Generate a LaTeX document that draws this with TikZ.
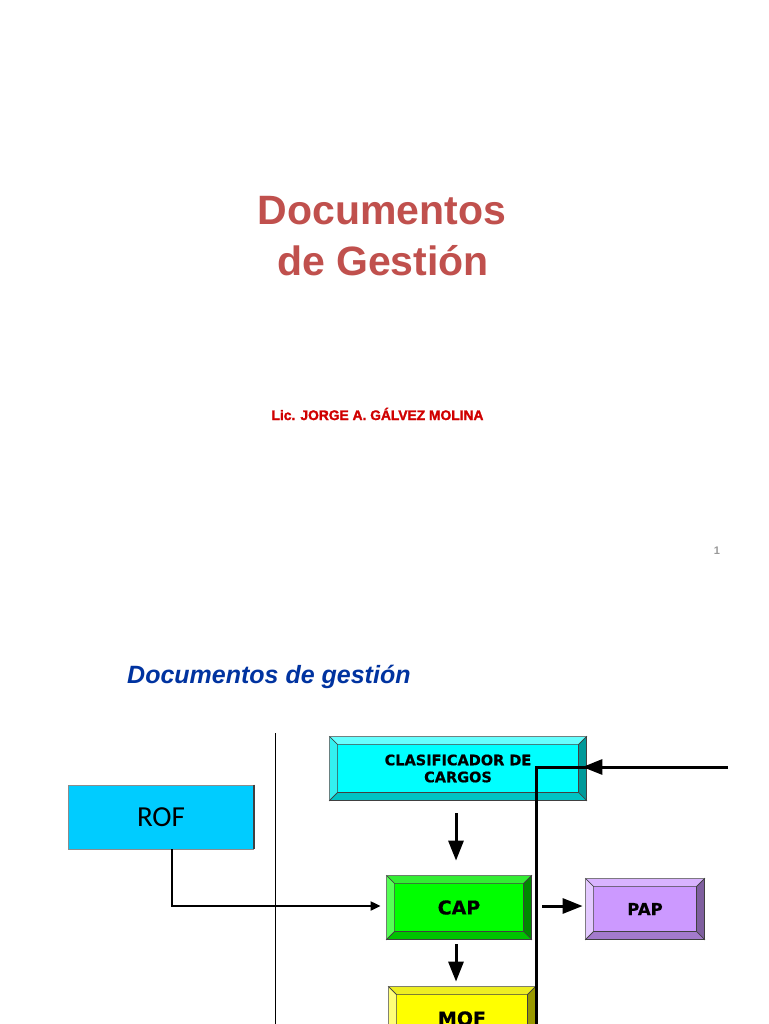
\documentclass[tikz,border=0pt]{standalone}
\usepackage{fontspec}
\setmainfont{Liberation Sans}
\newfontfamily\dvs[FakeBold=0.6]{DejaVu Sans}
\newfontfamily\heavy[FakeBold=1.8]{Liberation Sans}
\newfontfamily\carl{Carlito}
\usetikzlibrary{arrows.meta}
\definecolor{titlered}{HTML}{C0504D}
\definecolor{subred}{HTML}{D00000}
\definecolor{headblue}{HTML}{0033A0}
\definecolor{rofblue}{HTML}{00CCFF}
% bevel colours
\definecolor{cyF}{HTML}{00FFFF}\definecolor{cyT}{HTML}{66FFFF}\definecolor{cyL}{HTML}{33F0F0}\definecolor{cyR}{HTML}{009999}\definecolor{cyB}{HTML}{00C4C4}
\definecolor{grF}{HTML}{00FF00}\definecolor{grT}{HTML}{33EE33}\definecolor{grL}{HTML}{55FF55}\definecolor{grR}{HTML}{008800}\definecolor{grB}{HTML}{00C400}
\definecolor{puF}{HTML}{CC99FF}\definecolor{puT}{HTML}{D9B3FF}\definecolor{puL}{HTML}{E3C9FF}\definecolor{puR}{HTML}{7F5F9F}\definecolor{puB}{HTML}{A37ACC}
\definecolor{yeF}{HTML}{FFFF00}\definecolor{yeT}{HTML}{EEEE22}\definecolor{yeL}{HTML}{FFFF77}\definecolor{yeR}{HTML}{999900}\definecolor{yeB}{HTML}{CCCC00}
\newcommand{\bevelize}[6]{%
  \path[draw=black!75, line width=0.7pt, fill=#3] (#1.north west) -- (#1.north east) -- ([shift={(-#2,#2)}]#1.north east) -- ([shift={(#2,#2)}]#1.north west) -- cycle;
  \path[draw=black!75, line width=0.7pt, fill=#4] (#1.north west) -- ([shift={(#2,#2)}]#1.north west) -- ([shift={(#2,-#2)}]#1.south west) -- (#1.south west) -- cycle;
  \path[draw=black!75, line width=0.7pt, fill=#5] (#1.north east) -- (#1.south east) -- ([shift={(-#2,-#2)}]#1.south east) -- ([shift={(-#2,#2)}]#1.north east) -- cycle;
  \path[draw=black!75, line width=0.7pt, fill=#6] (#1.south west) -- (#1.south east) -- ([shift={(-#2,-#2)}]#1.south east) -- ([shift={(#2,-#2)}]#1.south west) -- cycle;
}
\tikzset{
  bevbox/.style={draw=black!80, line width=0.8pt, inner sep=0pt, align=center},
  thickarrow/.style={line width=3pt, -{Triangle[length=20pt,width=15pt]}},
  thinarrow/.style={line width=2pt, -{Triangle[length=10pt,width=9pt]}},
  plainline/.style={line width=3pt},
}
\begin{document}
\begin{tikzpicture}[x=1pt,y=-1pt]
\useasboundingbox (0,0) rectangle (768,1024);
\clip (0,0) rectangle (768,1024);
\fill[white] (0,0) rectangle (768,1024);

% slide 1
\node[anchor=base, text=titlered, font=\fontsize{41}{41}\selectfont\bfseries, inner sep=0pt] (t1) at (382,225) {Documentos};
\node[anchor=base, text=titlered, font=\fontsize{41}{41}\selectfont\bfseries, inner sep=0pt] (t2) at (383,275) {de Gestión};
\node[anchor=base, text=subred, font=\heavy\bfseries\fontsize{13.8}{14}\selectfont, inner sep=0pt] (sub) at (377.5,420) {Lic. JORGE A. GÁLVEZ MOLINA};
\node[anchor=base, text=black!40, font=\fontsize{11}{11}\selectfont\bfseries, inner sep=0pt] (pg) at (717,554) {1};

% slide 2
\node[anchor=base west, text=headblue, font=\fontsize{25}{25}\selectfont\bfseries\itshape, inner sep=0pt] (head) at (127,683) {Documentos de gestión};

\draw[line width=1pt] (275,733) -- (275,1024);

\node[draw=black!45, line width=0.8pt, fill=rofblue, minimum width=185pt, minimum height=64pt, inner sep=0pt, font=\carl\fontsize{29}{29}\selectfont] (rof) at (161,817) {ROF};
\draw[black!75, line width=1.6pt] (rof.north east) -- (rof.south east);

\node[bevbox, fill=cyF, minimum width=256pt, minimum height=63pt, font=\dvs\bfseries\fontsize{14.5}{17}\selectfont] (clas) at (458,768.5) {CLASIFICADOR DE\\CARGOS};
\bevelize{clas}{8}{cyT}{cyL}{cyR}{cyB}

\node[bevbox, fill=grF, minimum width=144pt, minimum height=63pt, font=\dvs\bfseries\fontsize{19}{19}\selectfont] (cap) at (459,907.5) {CAP};
\bevelize{cap}{8}{grT}{grL}{grR}{grB}

\node[bevbox, fill=puF, minimum width=118pt, minimum height=60pt, font=\dvs\bfseries\fontsize{16.5}{16.5}\selectfont] (pap) at (645,909) {PAP};
\bevelize{pap}{8}{puT}{puL}{puR}{puB}

\node[bevbox, fill=yeF, minimum width=146pt, minimum height=63pt, font=\dvs\bfseries\fontsize{19}{19}\selectfont] (mof) at (462,1018.5) {MOF};
\bevelize{mof}{8}{yeT}{yeL}{yeR}{yeB}

% connectors
\draw[thickarrow, shorten <=13pt, shorten >=15pt] ([xshift=-2pt]clas.south) -- ([xshift=-2pt]clas.south |- cap.north);
\draw[thickarrow, shorten <=5pt, shorten >=5pt] ([xshift=-3pt]cap.south) -- ([xshift=-3pt]cap.south |- mof.north);
\draw[thickarrow, shorten <=11pt, shorten >=3pt] ([yshift=1.5pt]cap.east) -- ([yshift=1.5pt]cap.east -| pap.west);
\draw[thinarrow, shorten >=6pt] ([xshift=11pt]rof.south) |- ([yshift=1.5pt]cap.west);

\coordinate (rin) at (728,767);
\coordinate (bot) at (536,1030);
\draw[plainline] (bot) |- (rin);
\draw[thickarrow, shorten >=-4pt] (rin) -- (clas.east |- rin);
\end{tikzpicture}
\end{document}
